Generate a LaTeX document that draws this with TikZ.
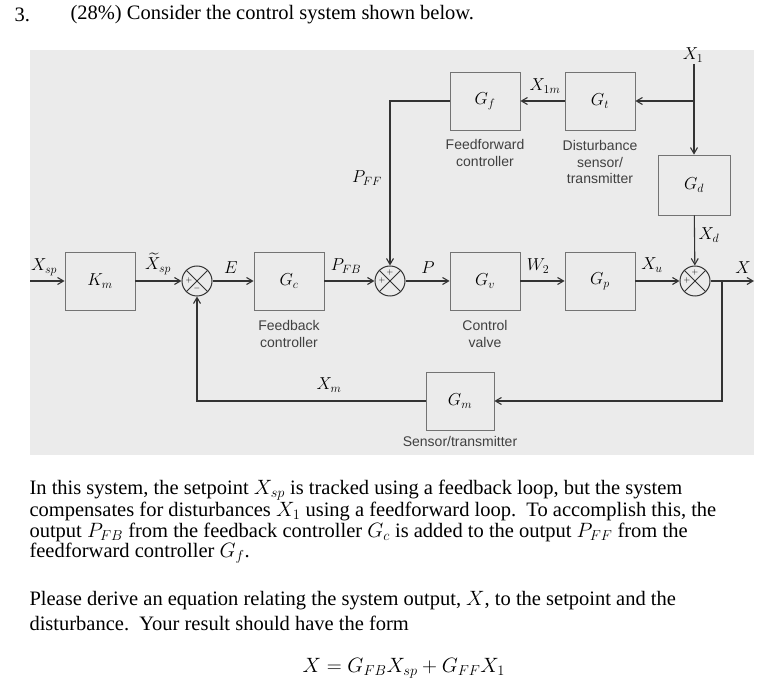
\documentclass[tikz,border=0pt]{standalone}
\usepackage{amsmath}
\usepackage{fontspec}
\setmainfont{Liberation Serif}
\newfontfamily\diagsans{Liberation Sans}
\usetikzlibrary{arrows.meta}

\begin{document}
\begin{tikzpicture}[x=1pt,y=-1pt,>={Straight Barb[length=6pt,width=7pt]},
                    line width=1.1pt,draw=black!80]
  \tikzset{block/.style={draw=black!55,line width=0.8pt,fill=black!8,minimum width=70pt,minimum height=58pt,font=\LARGE},
           sumj/.style={circle,draw=black!80,line width=1pt,minimum size=30pt,inner sep=0pt,fill=black!8,
             path picture={\draw[line width=1pt] (path picture bounding box.north west) -- (path picture bounding box.south east)
               (path picture bounding box.north east) -- (path picture bounding box.south west);}},
           blocklabel/.style={font=\diagsans\fontsize{14}{16.5}\selectfont,align=center,text=black!75},
           sig/.style={font=\LARGE},
           txt/.style={anchor=west,font=\fontsize{20.5}{21}\selectfont,inner sep=0pt}}
  \useasboundingbox (0,0) rectangle (777,692);
  \fill[black!8] (30,50) rectangle (754,455);

  \node[txt] at (14,15) {3.};
  \node[txt] at (70,15) {(28\%) Consider the control system shown below.};

  % blocks
  \node[block] (Km) at (100,281) {$K_m$};
  \node[block] (Gc) at (289,281) {$G_c$};
  \node[block] (Gv) at (485,281) {$G_v$};
  \node[block] (Gp) at (600,281) {$G_p$};
  \node[block] (Gf) at (485,101) {$G_f$};
  \node[block] (Gt) at (600,101) {$G_t$};
  \node[block,minimum width=72pt,minimum height=60pt] (Gd) at (694,185) {$G_d$};
  \node[block,minimum width=68pt] (Gm) at (460,401) {$G_m$};
  \node[sumj] (s1) at (197,281) {};
  \node[sumj] (s2) at (390,281) {};
  \node[sumj] (s3) at (695,281) {};
  \node[font=\footnotesize] at ([xshift=-8]s1.center) {$+$};
  \node[font=\footnotesize] at ([yshift=-8]s1.center) {$-$};
  \node[font=\footnotesize] at ([xshift=-8]s2.center) {$+$};
  \node[font=\footnotesize] at ([yshift=8]s2.center) {$+$};
  \node[font=\footnotesize] at ([xshift=-8]s3.center) {$+$};
  \node[font=\footnotesize] at ([yshift=8]s3.center) {$+$};

  \coordinate (in) at (30,281);
  \coordinate (out) at (754,281);
  \coordinate (top) at (694,64);
  \coordinate (br1) at (694,101);
  \coordinate (br2) at (722,281);

  % signals
  \draw[->] (in) -- (Km);
  \draw[->] (Km) -- (s1);
  \draw[->] (s1) -- (Gc);
  \draw[->] (Gc) -- (s2);
  \draw[->] (s2) -- (Gv);
  \draw[->] (Gv) -- (Gp);
  \draw[->] (Gp) -- (s3);
  \draw[->] (s3) -- (out);
  \draw[->] (top) -- (Gd);
  \draw[->] (br1) -- (Gt);
  \draw[->] (Gt) -- (Gf);
  \draw[->] (Gd) -- (s3);
  \draw[->] (Gf) -| (s2);
  \draw[->] (br2) |- (Gm);
  \draw[->] (Gm) -| (s1);

  % signal names
  \node[sig] at (44,267) {$X_{sp}$};
  \node[sig] at (158,264) {$\widetilde{X}_{sp}$};
  \node[sig] at (231,268) {$E$};
  \node[sig] at (346,266) {$P_{FB}$};
  \node[sig] at (367,178) {$P_{FF}$};
  \node[sig] at (428,268) {$P$};
  \node[sig] at (538,266) {$W_2$};
  \node[sig] at (652,265) {$X_u$};
  \node[sig] at (709,235) {$X_d$};
  \node[sig] at (743,268) {$X$};
  \node[sig] at (545,86) {$X_{1m}$};
  \node[sig] at (693,55) {$X_1$};
  \node[sig] at (329,385) {$X_m$};

  % captions
  \node[blocklabel] at (485,153) {Feedforward\\controller};
  \node[blocklabel] at (600,162) {Disturbance\\sensor/\\transmitter};
  \node[blocklabel] at (289,334) {Feedback\\controller};
  \node[blocklabel] at (485,334) {Control\\valve};
  \node[blocklabel] at (460,441) {Sensor/transmitter};

  % text
  \node[txt] at (29,490) {In this system, the setpoint $X_{sp}$ is tracked using a feedback loop, but the system};
  \node[txt] at (29,511) {compensates for disturbances $X_1$ using a feedforward loop.\ \ To accomplish this, the};
  \node[txt] at (29,532) {output $P_{FB}$ from the feedback controller $G_c$ is added to the output $P_{FF}$ from the};
  \node[txt] at (29,553) {feedforward controller $G_f$.};
  \node[txt] at (29,601) {Please derive an equation relating the system output, $X$, to the setpoint and the};
  \node[txt] at (29,623) {disturbance.\ \ Your result should have the form};
  \node[txt] at (302,668) {$X = G_{FB}X_{sp} + G_{FF}X_1$};
\end{tikzpicture}
\end{document}
